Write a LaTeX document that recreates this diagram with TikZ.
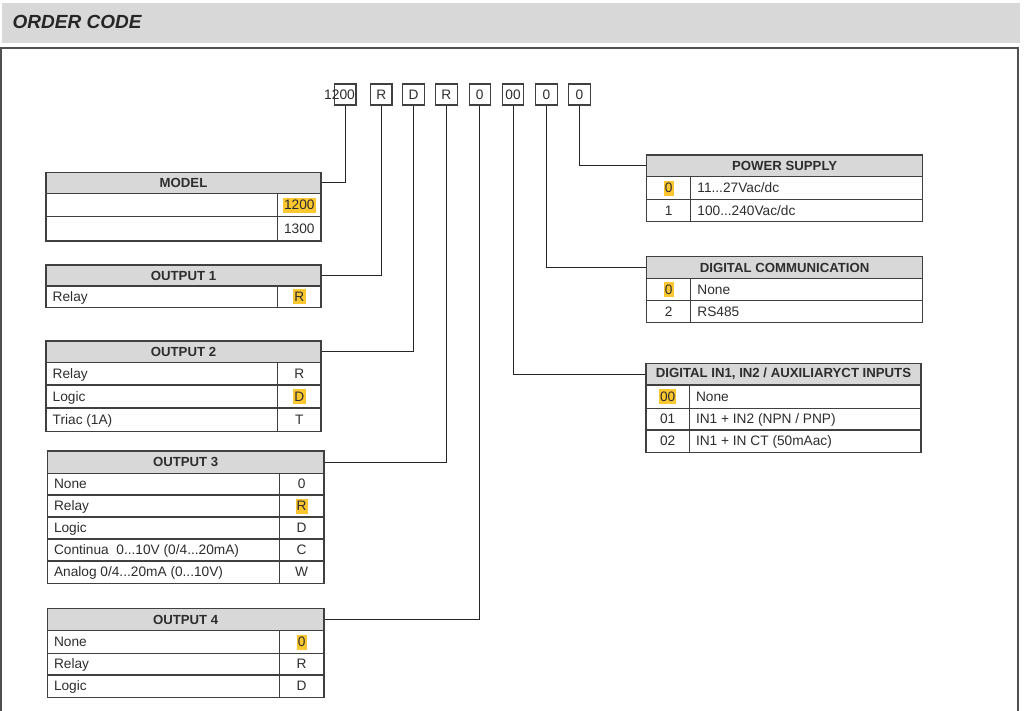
\documentclass[tikz,border=0pt]{standalone}
\usepackage{fontspec}
\setmainfont{Liberation Sans}
\usetikzlibrary{calc}
\definecolor{hdrgray}{RGB}{216,216,216}
\definecolor{linec}{RGB}{64,64,64}
\definecolor{txt}{RGB}{45,45,45}
\definecolor{hlc}{RGB}{252,199,47}
\definecolor{framec}{RGB}{80,80,80}
\tikzset{
  tbl/.style={draw=linec, line width=1.2pt},
  hdr/.style={draw=linec, line width=1.2pt, fill=hdrgray, inner sep=0pt, text=txt,
    font=\fontsize{13.2}{15}\selectfont\bfseries},
  ltxt/.style={anchor=west, inner xsep=0pt, inner ysep=0.5pt, text=txt,
    text height=11.8, text depth=2.2, font=\fontsize{13.7}{15}\selectfont},
  ctxt/.style={inner xsep=1.2pt, inner ysep=0.5pt, text=txt,
    text height=11.8, text depth=2.2, font=\fontsize{13.7}{15}\selectfont},
  hl/.style={fill=hlc},
  codebox/.style={draw=linec, line width=1.1pt, minimum width=21.5, minimum height=21,
    inner sep=0pt, text=txt, font=\fontsize{13.7}{15}\selectfont},
  conn/.style={draw=black!85, line width=1pt},
  framel/.style={draw=framec, line width=1.5pt}
}
% name, x1, xdiv, x2, ytop, ybot, label, code, style
\newcommand\lrow[9]{%
  \draw[tbl] (#2,#5) rectangle (#4,#6);
  \draw[tbl] (#3,#5) -- (#3,#6);
  \node[ltxt] (#1l) at ({#2+6.5},{(#5+#6)/2}) {#7};
  \node[ctxt,#9] (#1c) at ({(#3+#4)/2},{(#5+#6)/2}) {#8};
}
\newcommand\rrow[9]{%
  \draw[tbl] (#2,#5) rectangle (#4,#6);
  \draw[tbl] (#3,#5) -- (#3,#6);
  \node[ctxt,#9] (#1c) at ({(#2+#3)/2},{(#5+#6)/2}) {#8};
  \node[ltxt] (#1l) at ({#3+6.5},{(#5+#6)/2}) {#7};
}
\begin{document}
\begin{tikzpicture}[x=1pt,y=-1pt]
\useasboundingbox (0,0) rectangle (1024,710);
% title bar and frame
\fill[hdrgray] (2,3) rectangle (1020,43);
\node[anchor=west, inner sep=0pt, text=black!85, font=\fontsize{19}{22}\selectfont\bfseries\itshape] (title) at (12.5,21.5) {ORDER CODE};
\draw[framel] (1,712) -- (1,48) -- (1018,48) -- (1018,712);

% code boxes
\node[codebox] (c1) at (345.2,94.5) {};
\node[ctxt, inner sep=0pt, font=\fontsize{13.8}{15}\selectfont] (c1t) at (339.5,95) {1200};
\node[codebox] (c2) at (381.2,94.5) {R};
\node[codebox] (c3) at (413.5,94.5) {D};
\node[codebox] (c4) at (446.3,94.5) {R};
\node[codebox] (c5) at (479.8,94.5) {0};
\node[codebox] (c6) at (513,94.5) {00};
\node[codebox] (c7) at (546.5,94.5) {0};
\node[codebox] (c8) at (579.3,94.5) {0};

% MODEL
\node[hdr, minimum width=275, minimum height=21] (model) at (183.5,182.8) {MODEL};
\lrow{ma}{46}{277.7}{321}{193.3}{216.7}{}{1200}{hl}
\lrow{mb}{46}{277.7}{321}{216.7}{241}{}{1300}{}
% OUTPUT 1
\node[hdr, minimum width=275, minimum height=21] (out1) at (183.5,275.5) {OUTPUT 1};
\lrow{oa}{46}{277.7}{321}{286}{307.7}{Relay}{R}{hl}
% OUTPUT 2
\node[hdr, minimum width=275, minimum height=21.3] (out2) at (183.5,351.6) {OUTPUT 2};
\lrow{pa}{46}{277.7}{321}{362.3}{385}{Relay}{R}{}
\lrow{pb}{46}{277.7}{321}{385}{408}{Logic}{D}{hl}
\lrow{pc}{46}{277.7}{321}{408}{431.5}{Triac (1A)}{T}{}
% OUTPUT 3
\node[hdr, minimum width=276.7, minimum height=22.3] (out3) at (185.65,462.15) {OUTPUT 3};
\lrow{qa}{47.3}{279.3}{324}{473.3}{495}{None}{0}{}
\lrow{qb}{47.3}{279.3}{324}{495}{517}{Relay}{R}{hl}
\lrow{qc}{47.3}{279.3}{324}{517}{539}{Logic}{D}{}
\lrow{qd}{47.3}{279.3}{324}{539}{561}{Continua\ \ 0...10V (0/4...20mA)}{C}{}
\lrow{qe}{47.3}{279.3}{324}{561}{583.3}{Analog 0/4...20mA (0...10V)}{W}{}
% OUTPUT 4
\node[hdr, minimum width=276.7, minimum height=22.4] (out4) at (185.65,619.5) {OUTPUT 4};
\lrow{ra}{47.3}{279.3}{324}{630.7}{653.3}{None}{0}{hl}
\lrow{rb}{47.3}{279.3}{324}{653.3}{675}{Relay}{R}{}
\lrow{rc}{47.3}{279.3}{324}{675}{697.3}{Logic}{D}{}

% POWER SUPPLY
\node[hdr, minimum width=275.8, minimum height=21.7] (pow) at (784.6,165.85) {POWER SUPPLY};
\rrow{sa}{646.7}{690.7}{922.5}{176.7}{199.3}{11...27Vac/dc}{0}{hl}
\rrow{sb}{646.7}{690.7}{922.5}{199.3}{221.7}{100...240Vac/dc}{1}{}
% DIGITAL COMMUNICATION
\node[hdr, minimum width=275.8, minimum height=21.6] (comm) at (784.6,267.5) {DIGITAL COMMUNICATION};
\rrow{ta}{646.7}{690.7}{922.5}{278.3}{300.7}{None}{0}{hl}
\rrow{tb}{646.7}{690.7}{922.5}{300.7}{322.7}{RS485}{2}{}
% DIGITAL IN
\node[hdr, minimum width=275, minimum height=21.7] (din) at (783.5,374.15) {DIGITAL IN1, IN2 / AUXILIARYCT INPUTS};
\rrow{ua}{646}{689.3}{921}{385}{408.3}{None}{00}{hl}
\rrow{ub}{646}{689.3}{921}{408.3}{430}{IN1 + IN2 (NPN / PNP)}{01}{}
\rrow{uc}{646}{689.3}{921}{430}{452.3}{IN1 + IN CT (50mAac)}{02}{}

% connectors
\draw[conn] (c1.south) |- (model.east);
\draw[conn] (c2.south) |- (out1.east);
\draw[conn] (c3.south) |- (out2.east);
\draw[conn] (c4.south) |- (out3.east);
\draw[conn] (c5.south) |- (out4.east);
\draw[conn] (c6.south) |- (din.west);
\draw[conn] (c7.south) |- (comm.west);
\draw[conn] (c8.south) |- (pow.west);
\end{tikzpicture}
\end{document}
